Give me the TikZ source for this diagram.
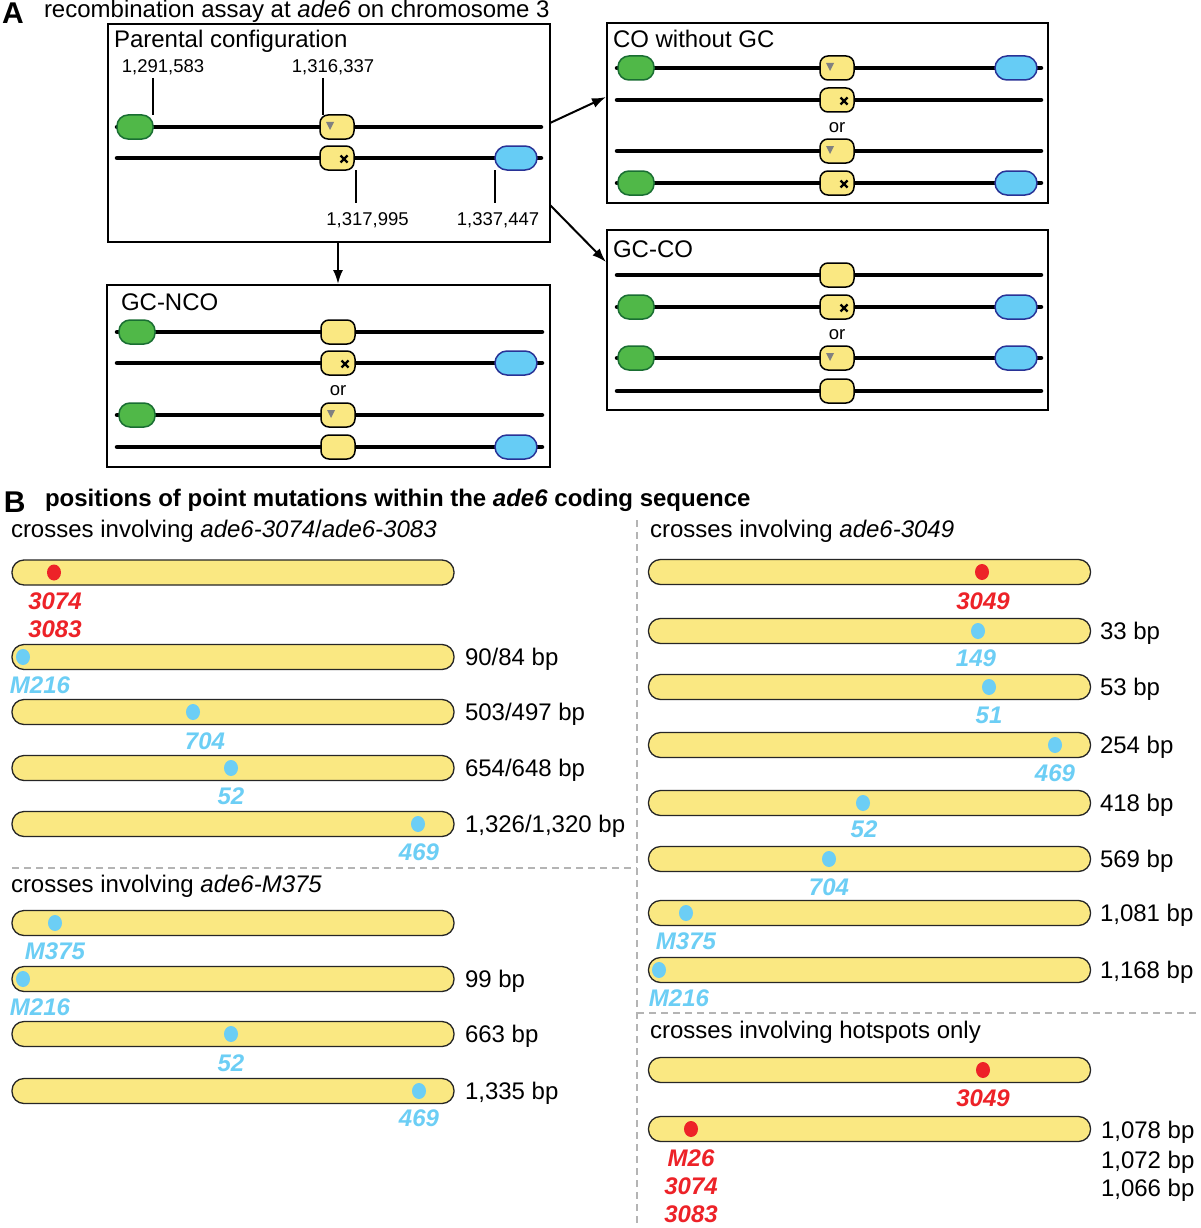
\documentclass[tikz,border=0pt]{standalone}
\usepackage{fontspec}
\setmainfont{Liberation Sans}
\usetikzlibrary{arrows.meta,shapes.geometric}
\definecolor{yel}{RGB}{250,232,130}
\definecolor{grnF}{RGB}{80,184,72}
\definecolor{grnD}{RGB}{25,110,50}
\definecolor{bluF}{RGB}{102,204,245}
\definecolor{bluD}{RGB}{40,50,150}
\definecolor{dotB}{RGB}{108,206,245}
\definecolor{redM}{RGB}{237,34,40}
\definecolor{dashgray}{RGB}{180,180,180}
\definecolor{trigray}{RGB}{128,128,128}
\tikzset{
 every node/.style={inner sep=0pt, outer sep=0pt},
 txt/.style={font=\fontsize{24}{28}\selectfont},
 small/.style={font=\fontsize{18.5}{22}\selectfont},
 big/.style={font=\fontsize{30}{34}\selectfont\bfseries},
 pbox/.style={draw, line width=2pt, fill=white},
 chrom/.style={line width=4.5pt, line cap=round},
 tickln/.style={line width=2.5pt},
 ylw/.style={draw, fill=yel, line width=1.5pt, rounded corners=8pt, minimum width=34pt, minimum height=24pt},
 grn/.style={draw=grnD, fill=grnF, line width=1.5pt, rounded corners=11pt, minimum width=36pt, minimum height=24pt},
 blu/.style={draw=bluD, fill=bluF, line width=1.5pt, rounded corners=12pt, minimum width=42pt, minimum height=24pt},
 arr/.style={line width=2pt, -{Latex[length=14pt,width=10pt]}},
 bar/.style={draw=black!85, fill=yel, line width=1.3pt, rounded corners=12pt, minimum width=442pt, minimum height=25pt},
 bdot/.style={ellipse, fill=dotB, minimum width=14pt, minimum height=16pt},
 rdot/.style={ellipse, fill=redM, minimum width=14pt, minimum height=16pt},
 blab/.style={text=dotB, font=\fontsize{24}{28}\selectfont\bfseries\itshape},
 rlab/.style={text=redM, font=\fontsize{24}{28}\selectfont\bfseries\itshape},
 bp/.style={txt, anchor=base west},
 sepln/.style={dashgray, line width=1.5pt, dash pattern=on 7pt off 5pt},
 tri/.pic={\fill[trigray] (-4,-4) -- (4,-4) -- (0,4) -- cycle;},
 xmk/.pic={\draw[line width=2.2pt] (-3.5,-3.5) -- (3.5,3.5) (-3.5,3.5) -- (3.5,-3.5);},
}
\begin{document}
\begin{tikzpicture}[x=1pt,y=-1pt]
\useasboundingbox (0,0) rectangle (1200,1228);
\fill[white] (0,0) rectangle (1200,1228);

% ================= Panel A =================
\node[big, anchor=base west] (lA) at (2,24) {A};
\node[txt, anchor=base west] (tA) at (44,18) {recombination assay at \textit{ade6} on chromosome 3};

% boxes
\node[pbox, minimum width=442pt, minimum height=218pt] (par) at (329,133) {};
\node[pbox, minimum width=441pt, minimum height=180pt] (co) at (827.5,113) {};
\node[pbox, minimum width=443pt, minimum height=182pt] (nco) at (328.5,376) {};
\node[pbox, minimum width=441pt, minimum height=180pt] (gcco) at (827.5,320) {};

% arrows
\draw[arr] ([xshift=9pt]par.south) -- ([xshift=9.5pt,yshift=1pt]nco.north);
\draw[arr] ([yshift=10pt]par.east) -- ([yshift=16pt,xshift=-1pt]co.west);
\draw[arr] ([yshift=-72pt]par.east) -- ([yshift=58pt,xshift=-1pt]gcco.west);

% Parental configuration
\node[txt, anchor=base west] (tpar) at (114,48) {Parental configuration};
\draw[chrom] (117,127) -- (541,127);
\draw[chrom] (117,158) -- (541,158);
\node[grn] (pg) at (135,127) {};
\node[ylw] (py1) at (337,127) {};
\pic at ([xshift=-7pt,yshift=1pt]py1.center) {tri};
\node[ylw] (py2) at (337,158) {};
\pic at ([xshift=7pt,yshift=-1pt]py2.center) {xmk};
\node[blu] (pb) at (516,158) {};
\node[small, anchor=base] (n1) at (163,73) {1,291,583};
\node[small, anchor=base] (n2) at (333,73) {1,316,337};
\node[small, anchor=base] (n3) at (367.5,225) {1,317,995};
\node[small, anchor=base] (n4) at (498,225) {1,337,447};
\draw[tickln] (153,78) -- (153,115);
\draw[tickln] (323,78) -- (323,115);
\draw[tickln] (356,170) -- (356,203);
\draw[tickln] (495,170) -- (495,203);

% CO without GC
\node[txt, anchor=base west] (tco) at (613,48) {CO without GC};
\foreach \yy in {68,100,151,183} {\draw[chrom] (617,\yy) -- (1041,\yy);}
\node[grn] (c1g) at (636,68) {};
\node[ylw] (c1y) at (837,68) {};
\pic at ([xshift=-7pt,yshift=1pt]c1y.center) {tri};
\node[blu] (c1b) at (1016,68) {};
\node[ylw] (c2y) at (837,100) {};
\pic at ([xshift=7pt,yshift=-1pt]c2y.center) {xmk};
\node[small, anchor=base] (cor) at (837,132) {or};
\node[ylw] (c3y) at (837,151) {};
\pic at ([xshift=-7pt,yshift=1pt]c3y.center) {tri};
\node[grn] (c4g) at (636,183) {};
\node[ylw] (c4y) at (837,183) {};
\pic at ([xshift=7pt,yshift=-1pt]c4y.center) {xmk};
\node[blu] (c4b) at (1016,183) {};

% GC-NCO
\node[txt, anchor=base west] (tnco) at (121,310) {GC-NCO};
\foreach \yy in {332,363,415,447} {\draw[chrom] (117,\yy) -- (542,\yy);}
\node[grn] (n1g) at (137,332) {};
\node[ylw] (n1y) at (338,332) {};
\node[ylw] (n2y) at (338,363) {};
\pic at ([xshift=7pt,yshift=-1pt]n2y.center) {xmk};
\node[blu] (n2b) at (516,363) {};
\node[small, anchor=base] (nor) at (338,395) {or};
\node[grn] (n3g) at (137,415) {};
\node[ylw] (n3y) at (338,415) {};
\pic at ([xshift=-7pt,yshift=1pt]n3y.center) {tri};
\node[ylw] (n4y) at (338,447) {};
\node[blu] (n4b) at (516,447) {};

% GC-CO
\node[txt, anchor=base west] (tgcco) at (613,257) {GC-CO};
\foreach \yy in {275,307,358,391} {\draw[chrom] (617,\yy) -- (1041,\yy);}
\node[ylw] (g1y) at (837,275) {};
\node[grn] (g2g) at (636,307) {};
\node[ylw] (g2y) at (837,307) {};
\pic at ([xshift=7pt,yshift=-1pt]g2y.center) {xmk};
\node[blu] (g2b) at (1016,307) {};
\node[small, anchor=base] (gor) at (837,339) {or};
\node[grn] (g3g) at (636,358) {};
\node[ylw] (g3y) at (837,358) {};
\pic at ([xshift=-7pt,yshift=1pt]g3y.center) {tri};
\node[blu] (g3b) at (1016,358) {};
\node[ylw] (g4y) at (837,391) {};

% ================= Panel B =================
\node[big, anchor=base west] (lB) at (4,512) {B};
\node[txt, anchor=base west, font=\fontsize{24}{28}\selectfont\bfseries] (tB) at (45,506) {positions of point mutations within the \textit{ade6} coding sequence};

\draw[sepln] (637,520) -- (637,1228);
\draw[sepln] (12,868) -- (637,868);
\draw[sepln] (637,1013) -- (1200,1013);

% left column, group 1
\node[txt, anchor=base west] (h1) at (11,537) {crosses involving \textit{ade6-3074}/\textit{ade6-3083}};
\node[bar] (a1) at (233,572.5) {};
\node[rdot] (a1d) at (54,572.5) {};
\node[rlab] (a1l) at (55,601) {3074};
\node[rlab] (a1m) at (55,629) {3083};
\node[bar] (a2) at (233,657) {};
\node[bdot] (a2d) at (23,657) {};
\node[blab] (a2l) at (40,685) {M216};
\node[bp] (a2b) at (465,665.5) {90/84 bp};
\node[bar] (a3) at (233,712) {};
\node[bdot] (a3d) at (193,712) {};
\node[blab] (a3l) at (205,741) {704};
\node[bp] (a3b) at (465,720.5) {503/497 bp};
\node[bar] (a4) at (233,768) {};
\node[bdot] (a4d) at (231,768) {};
\node[blab] (a4l) at (231,796) {52};
\node[bp] (a4b) at (465,776.5) {654/648 bp};
\node[bar] (a5) at (233,824) {};
\node[bdot] (a5d) at (418,824) {};
\node[blab] (a5l) at (419,852) {469};
\node[bp] (a5b) at (465,832.5) {1,326/1,320 bp};

% left column, group 2
\node[txt, anchor=base west] (h2) at (11,892) {crosses involving \textit{ade6-M375}};
\node[bar] (b1) at (233,923) {};
\node[bdot] (b1d) at (55,923) {};
\node[blab] (b1l) at (55,951) {M375};
\node[bar] (b2) at (233,979) {};
\node[bdot] (b2d) at (23,979) {};
\node[blab] (b2l) at (40,1007) {M216};
\node[bp] (b2b) at (465,987.5) {99 bp};
\node[bar] (b3) at (233,1034) {};
\node[bdot] (b3d) at (231,1034) {};
\node[blab] (b3l) at (231,1063) {52};
\node[bp] (b3b) at (465,1042.5) {663 bp};
\node[bar] (b4) at (233,1091) {};
\node[bdot] (b4d) at (419,1091) {};
\node[blab] (b4l) at (419,1118) {469};
\node[bp] (b4b) at (465,1099.5) {1,335 bp};

% right column, group 1
\node[txt, anchor=base west] (h3) at (650,537) {crosses involving \textit{ade6-3049}};
\node[bar] (r1) at (869.5,572) {};
\node[rdot] (r1d) at (982,572) {};
\node[rlab] (r1l) at (983,601) {3049};
\node[bar] (r2) at (869.5,631) {};
\node[bdot] (r2d) at (978,631) {};
\node[blab] (r2l) at (976,658) {149};
\node[bp] (r2b) at (1100,639.5) {33 bp};
\node[bar] (r3) at (869.5,687) {};
\node[bdot] (r3d) at (989,687) {};
\node[blab] (r3l) at (989,715) {51};
\node[bp] (r3b) at (1100,695.5) {53 bp};
\node[bar] (r4) at (869.5,745) {};
\node[bdot] (r4d) at (1055,745) {};
\node[blab] (r4l) at (1055,773) {469};
\node[bp] (r4b) at (1100,753.5) {254 bp};
\node[bar] (r5) at (869.5,803) {};
\node[bdot] (r5d) at (863,803) {};
\node[blab] (r5l) at (864,829) {52};
\node[bp] (r5b) at (1100,811.5) {418 bp};
\node[bar] (r6) at (869.5,859) {};
\node[bdot] (r6d) at (829,859) {};
\node[blab] (r6l) at (829,887) {704};
\node[bp] (r6b) at (1100,867.5) {569 bp};
\node[bar] (r7) at (869.5,913) {};
\node[bdot] (r7d) at (686,913) {};
\node[blab] (r7l) at (686,941) {M375};
\node[bp] (r7b) at (1100,921.5) {1,081 bp};
\node[bar] (r8) at (869.5,970) {};
\node[bdot] (r8d) at (659,970) {};
\node[blab] (r8l) at (679,998) {M216};
\node[bp] (r8b) at (1100,978.5) {1,168 bp};

% right column, hotspots
\node[txt, anchor=base west] (h4) at (650,1038) {crosses involving hotspots only};
\node[bar] (s1) at (869.5,1070) {};
\node[rdot] (s1d) at (983,1070) {};
\node[rlab] (s1l) at (983,1098) {3049};
\node[bar] (s2) at (869.5,1129) {};
\node[rdot] (s2d) at (691,1129) {};
\node[rlab] (s2l) at (691,1158) {M26};
\node[rlab] (s2m) at (691,1186) {3074};
\node[rlab] (s2n) at (691,1214) {3083};
\node[bp] (s2a) at (1101,1138.5) {1,078 bp};
\node[bp] (s2b) at (1101,1168.5) {1,072 bp};
\node[bp] (s2c) at (1101,1196.5) {1,066 bp};
\end{tikzpicture}
\end{document}
